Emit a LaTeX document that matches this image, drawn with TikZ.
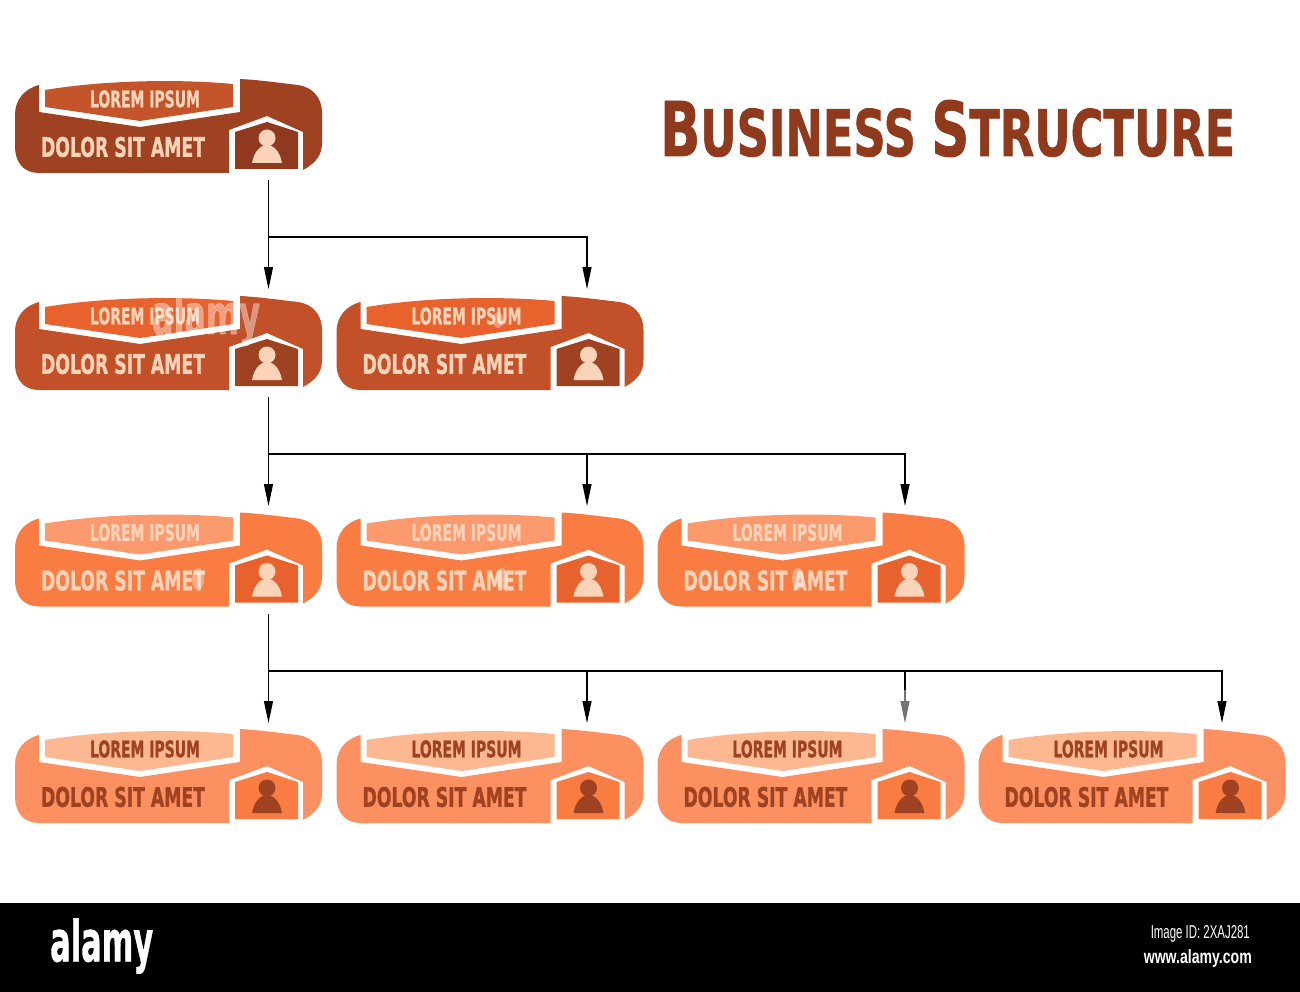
\documentclass[tikz,border=0pt]{standalone}
\usepackage{fontspec}
\setmainfont{DejaVu Sans}
\newfontfamily\heavyfont[FakeBold=1.2]{DejaVu Sans Bold}
\newfontfamily\barfont{Liberation Sans}
\usetikzlibrary{arrows.meta}
\definecolor{bodyA}{HTML}{9E4222}\definecolor{bandA}{HTML}{C4552A}\definecolor{boxA}{HTML}{8F3A1E}
\definecolor{bodyB}{HTML}{C25028}\definecolor{bandB}{HTML}{E8622E}\definecolor{boxB}{HTML}{9E4222}
\definecolor{bodyC}{HTML}{F97C43}\definecolor{bandC}{HTML}{FC9A6E}\definecolor{boxC}{HTML}{E8622E}
\definecolor{bodyD}{HTML}{FD9060}\definecolor{bandD}{HTML}{FDB892}\definecolor{boxD}{HTML}{F97C43}
\definecolor{lightink}{HTML}{FBD3B8}\definecolor{darkink}{HTML}{9E4222}\definecolor{titleink}{HTML}{8F3A1C}
\tikzset{
  link/.style={draw=black,line width=1.1pt},
  linkarrow/.style={link,-{Triangle[length=22pt,width=9pt]}},
  label/.style={inner sep=0pt},
  stamp/.style={inner sep=0pt,text=white,text opacity=0.4},
  blot/.style={fill=white,opacity=0.35},
}
\newcommand{\card}[5]{%
\begin{scope}[shift={(#2,#3)}]
  \fill[body#4] (39,85) .. controls (24,89) and (15,100) .. (15,115) -- (15,146)
     .. controls (15,163) and (24,173) .. (39,173) -- (229,173) -- (229,130) -- (267,116) -- (303,132) -- (303,170)
     .. controls (316,163) and (322,155) .. (322,143) -- (322,113)
     .. controls (322,97) and (312,87) .. (298,85) .. controls (280,83) and (260,80) .. (240,79)
     -- (240,112) -- (140,127) -- (39,112) -- cycle;
  \fill[band#4] (45,90) .. controls (105,80) and (180,79) .. (233,84) -- (233,107) -- (140,121) -- (45,107) -- cycle;
  \fill[box#4] (235,169) -- (235,132) -- (267,122) -- (298,132) -- (298,169) -- cycle;
  \fill[#5] (267,138) circle (8.5);
  \fill[#5] (252,163) .. controls (254,152) and (260,145) .. (267,145) .. controls (274,145) and (280,152) .. (282,163) -- cycle;
  \node[label,text=#5] (#1-band) at (145,99) {\resizebox{110pt}{17pt}{\heavyfont LOREM IPSUM}};
  \node[label,text=#5] (#1-text) at (123,147) {\resizebox{164pt}{20pt}{\heavyfont DOLOR SIT AMET}};
\end{scope}}
\begin{document}
\begin{tikzpicture}[x=1pt,y=-1pt]
\useasboundingbox (0,0) rectangle (1300,992);
\fill[white] (0,0) rectangle (1300,992);
\fill[black] (0,903) rectangle (1300,992);
\card{a}{0}{0}{A}{lightink}
\card{ba}{0}{217}{B}{lightink}
\card{bb}{321.5}{217}{B}{lightink}
\card{ca}{0}{433.5}{C}{lightink}
\card{cb}{321.5}{433.5}{C}{lightink}
\card{cc}{642.5}{433.5}{C}{lightink}
\card{da}{0}{650}{D}{darkink}
\card{db}{321.5}{650}{D}{darkink}
\card{dc}{642.5}{650}{D}{darkink}
\card{dd}{963.5}{650}{D}{darkink}
\coordinate (outA) at (268.5,180);
\coordinate (busA) at (268.5,237);
\coordinate (inAa) at (268.5,289);
\coordinate (inAb) at (587,289);
\coordinate (outB) at (268.5,397);
\coordinate (busB) at (268.5,454);
\coordinate (inBa) at (268.5,506);
\coordinate (inBb) at (587,506);
\coordinate (inBc) at (905,506);
\coordinate (outC) at (268.5,614);
\coordinate (busC) at (268.5,671);
\coordinate (inCa) at (268.5,723);
\coordinate (inCb) at (587,723);
\coordinate (inCc) at (905,723);
\coordinate (inCd) at (1222,723);
\draw[linkarrow] (outA) -- (inAa);
\draw[linkarrow] (busA) -| (inAb);
\draw[linkarrow] (outB) -- (inBa);
\draw[linkarrow] (busB) -| (inBb);
\draw[linkarrow] (busB) -| (inBc);
\draw[linkarrow] (outC) -- (inCa);
\draw[linkarrow] (busC) -| (inCb);
\draw[linkarrow] (busC) -| (inCc);
\draw[linkarrow] (busC) -| (inCd);
% faint watermark traces
\fill[white,opacity=0.45] (899,690) rectangle (911,725);
\node[stamp] (markA) at (206,319) {\resizebox{108pt}{42pt}{\heavyfont alamy}};
\fill[blot] (498,320) ellipse (5 and 8);
\fill[blot] (198,579) ellipse (6 and 11);
\fill[blot] (502,579) ellipse (6 and 11);
\fill[blot] (798,579) ellipse (6 and 11);
% title
\node[label,text=titleink,anchor=west] (title) at (660,128.5) {\resizebox{575pt}{56pt}{\heavyfont\fontsize{40}{40}\selectfont B\fontsize{34}{34}\selectfont USINESS\ \fontsize{40}{40}\selectfont S\fontsize{34}{34}\selectfont TRUCTURE}};
% footer
\node[inner sep=0pt,text=white,anchor=west] (logo) at (50,946) {\resizebox{103pt}{43pt}{\heavyfont alamy}};
\node[inner sep=0pt,text=white,anchor=east,font=\barfont] (imgid) at (1250,934) {\resizebox{99pt}{13pt}{Image ID: 2XAJ281}};
\node[inner sep=0pt,text=white,anchor=east,font=\barfont\bfseries] (site) at (1252,958) {\resizebox{108pt}{14pt}{www.alamy.com}};
\end{tikzpicture}
\end{document}
